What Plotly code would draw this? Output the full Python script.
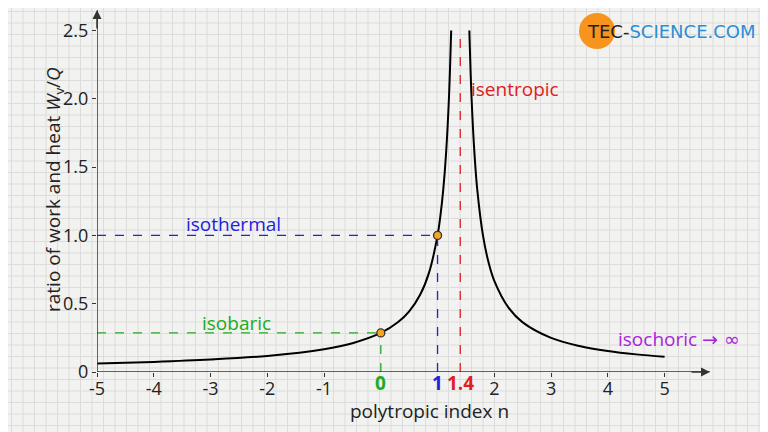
import plotly.graph_objects as go

n_left = [-5, -4, -3, -2, -1, -0.5, 0, 0.3, 0.5, 0.7, 0.85, 1, 1.05, 1.1, 1.15, 1.2, 1.24]
r_left = [0.0625, 0.0741, 0.0909, 0.1176, 0.1667, 0.2105, 0.2857, 0.3636, 0.4444, 0.5714, 0.7273, 1.0, 1.1429, 1.3333, 1.6, 2.0, 2.5]
n_right = [1.56, 1.6, 1.65, 1.7, 1.8, 1.9, 2, 2.25, 2.5, 3, 3.5, 4, 4.5, 5]
r_right = [2.5, 2.0, 1.6, 1.3333, 1.0, 0.8, 0.6667, 0.4706, 0.3636, 0.25, 0.1905, 0.1538, 0.129, 0.1111]
xticks = [-5, -4, -3, -2, -1, 2, 3, 4, 5]
xtext = ["-5", "-4", "-3", "-2", "-1", "2", "3", "4", "5"]
yticks = [0, 0.5, 1.0, 1.5, 2.0, 2.5]
ytext = ["0", "0.5", "1.0", "1.5", "2.0", "2.5"]
pts_n = [0, 1]
pts_r = [0.2857, 1.0]
kappa = 1.4

W, H = 768, 432
OFF = 8  # page offset
L, R, T, B = 97 - OFF, 768 - 710 + OFF, 10 - OFF, 432 - 372 + OFF
pw, ph = W - L - R, H - T - B
FONT = "Open Sans"
FS = 19

def px(xs):
    return (xs - OFF - L) / pw

def py(ys):
    return (H - B - (ys - OFF)) / ph

fig = go.Figure()
fig.add_trace(go.Scatter(x=n_left + [None] + n_right, y=r_left + [None] + r_right,
                         mode="lines", line=dict(color="black", width=2, shape="spline"),
                         connectgaps=False, hoverinfo="skip"))
guides = [
    ([-5, 1], [1, 1], "#2222dd"), ([1, 1], [0, 1], "#2222dd"),
    ([-5, 0], [pts_r[0]] * 2, "#22aa22"), ([0, 0], [0, pts_r[0]], "#22aa22"),
    ([kappa, kappa], [0, 2.5], "#e02020"),
]
for gx, gy, c in guides:
    fig.add_trace(go.Scatter(x=gx, y=gy, mode="lines", line=dict(color=c, width=1.3, dash="dash"), hoverinfo="skip"))
fig.add_trace(go.Scatter(x=pts_n, y=pts_r, mode="markers",
                         marker=dict(size=8, color="#f5a623", line=dict(color="#333", width=1.3))))

shapes = []
step = 11.5
x = 0.0
while x <= W + 16:
    shapes.append(dict(type="line", xref="paper", yref="paper", x0=px(x), x1=px(x),
                       y0=py(H + 16), y1=py(0), line=dict(color="#dcdcdc", width=1), layer="below"))
    x += step
y = 0.0
while y <= H + 16:
    shapes.append(dict(type="line", xref="paper", yref="paper", y0=py(y), y1=py(y),
                       x0=px(0), x1=px(W + 16), line=dict(color="#dcdcdc", width=1), layer="below"))
    y += step
shapes.append(dict(type="circle", xref="paper", yref="paper", x0=px(579), x1=px(615),
                   y0=py(49), y1=py(13), fillcolor="#f7941d", line=dict(width=0), layer="below"))

bot = dict(xref="x", yref="paper", y=py(383), yanchor="middle", showarrow=False)
anns = [
    dict(x=1, y=0, xref="paper", yref="paper", ax=-20, ay=0, showarrow=True, arrowhead=2, arrowsize=1.2, arrowwidth=1.5, arrowcolor="#333", text=""),
    dict(x=0, y=1, xref="paper", yref="paper", ax=0, ay=20, showarrow=True, arrowhead=2, arrowsize=1.2, arrowwidth=1.5, arrowcolor="#333", text=""),
    dict(x=-2.6, y=1.08, text="isothermal", font=dict(color="#2222dd", size=FS), showarrow=False),
    dict(x=-2.55, y=0.36, text="isobaric", font=dict(color="#22aa22", size=FS), showarrow=False),
    dict(x=1.55, y=2.07, text="isentropic", font=dict(color="#e02020", size=FS), showarrow=False, xanchor="left"),
    dict(x=px(742), y=0.24, xref="paper", text="isochoric <span style='font-family:DejaVu Sans'>→ ∞</span>",
         font=dict(color="#aa22dd", size=FS), showarrow=False, xanchor="right"),
    dict(x=0, text="<b>0</b>", font=dict(color="#22aa22", size=FS), **bot),
    dict(x=1, text="<b>1</b>", font=dict(color="#2222dd", size=FS), **bot),
    dict(x=kappa, text="<b>1.4</b>", font=dict(color="#e02020", size=FS), **bot),
    dict(x=0.85, y=py(411), xref="x", yref="paper", yanchor="middle", text="polytropic index n",
         font=dict(color="#222", size=FS), showarrow=False),
    dict(x=px(38), y=py(190), xref="paper", yref="paper", text="ratio of work and heat <i>W</i><sub>v</sub>/<i>Q</i>",
         textangle=-90, font=dict(color="#222", size=FS), showarrow=False),
    dict(x=px(758), y=py(31), xref="paper", yref="paper",
         text="<span style='color:#222'>TEC-</span><span style='color:#2a8fd6'>SCIENCE.COM</span>",
         font=dict(size=18, family="DejaVu Sans"), showarrow=False, xanchor="right", yanchor="middle"),
]

fig.update_layout(
    width=W, height=H, margin=dict(l=L, r=R, t=T, b=B, autoexpand=False),
    paper_bgcolor="#f2f2f0", plot_bgcolor="rgba(0,0,0,0)", showlegend=False,
    font=dict(family=FONT, size=FS, color="#222"),
    shapes=shapes, annotations=anns,
    xaxis=dict(range=[-5, 5.8], tickvals=xticks, ticktext=xtext, ticks="outside", ticklen=4, tickcolor="#333",
               ticklabelstandoff=-4,
               showgrid=False, zeroline=False, showline=False, tickfont=dict(size=FS - 1), automargin=False),
    yaxis=dict(range=[0, 2.65], tickvals=yticks, ticktext=ytext, ticks="outside", ticklen=4, tickcolor="#333",
               showgrid=False, zeroline=False, showline=False, tickfont=dict(size=FS - 1), automargin=False),
)
fig.add_shape(type="line", xref="x", yref="paper", x0=-5, x1=-5, y0=0, y1=1, line=dict(color="#333", width=1.5))
fig.add_shape(type="line", xref="paper", yref="y", x0=0, x1=1, y0=0, y1=0, line=dict(color="#333", width=1.5))
fig.write_html("out.html")
